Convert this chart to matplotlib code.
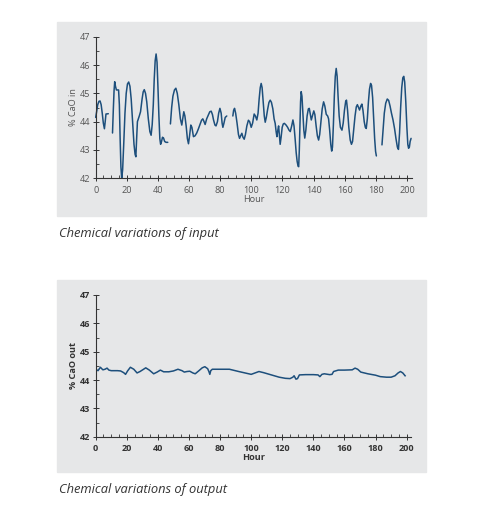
import numpy as np
import matplotlib
matplotlib.use("Agg")
import matplotlib.pyplot as plt
from matplotlib.patches import Rectangle
from matplotlib.ticker import MultipleLocator

plt.rcParams['font.family'] = ['Open Sans', 'DejaVu Sans']

# input % CaO; the line has gaps between these pieces
in_hours = [
    [0, 0.6, 1.3, 2.1, 2.8, 3.5, 4.2, 4.9, 5.6, 6.1, 6.6, 8.1],
    [10.8, 11.3, 11.8, 12.2, 12.7, 13.3, 14.7, 15.2, 15.7, 16.2, 16.7, 17.3, 18.0,
     18.8, 19.6, 20.4, 21.2, 22.0, 22.8, 23.7, 24.6, 25.3, 25.8, 26.3, 26.8, 28.0,
     28.8, 29.8, 30.5, 31.2, 32.0, 32.8, 33.8, 34.8, 35.6, 36.3, 37.0, 37.6, 38.2,
     38.8, 39.4, 40.0, 40.6, 41.2, 41.7, 42.3, 42.9, 43.6, 44.3, 45.2, 46.3],
    [48, 48.8, 49.6, 50.6, 51.5, 52.4, 53.4, 54.4, 55.3, 55.9, 56.6, 57.3, 58.1,
     58.9, 59.6, 60.3, 61.1, 61.8, 62.8, 63.8, 64.9, 66, 67, 68, 68.8, 69.6, 70.3,
     71.3, 72.4, 73.3, 74.2, 75, 75.7, 76.6, 77.3, 78.2, 79, 79.8, 80.6, 81.2,
     81.7, 82.4, 83.2, 84.2],
    [88.1, 88.6, 89.2, 89.9, 90.8, 91.7, 92.4, 93.1, 93.9, 94.6, 95.4, 96.2, 97.1,
     98.1, 98.9, 99.9, 100.8, 101.8, 102.6, 103.5, 104.3, 105.0, 105.7, 106.3,
     106.9, 107.6, 108.3, 108.9, 109.6, 110.5, 111.3, 112.1, 112.9, 113.8, 114.6,
     115.3, 115.9, 116.4, 117.0, 117.5, 118.0, 118.5, 119.1, 119.8, 120.5, 121.2,
     122.3, 123.3, 124.2, 125, 125.9, 126.7, 127.4, 128.1, 128.8, 129.4, 130.0,
     130.4, 130.8, 131.2, 131.6, 132.0, 132.5, 133.1, 133.7, 134.3, 135.0, 135.8,
     136.6, 137.2, 137.9, 138.5, 139.2, 140.1, 140.8, 141.6, 142.4, 143.2, 143.9,
     144.7, 145.5, 146.4, 147.2, 148.1, 149, 149.6, 150.3, 151, 151.6, 152.1,
     152.7, 153.3, 153.9, 154.5, 155.1, 155.7, 156.4, 157.2, 158.2, 159.0, 159.8,
     160.6, 161.1, 161.8, 162.6, 163.5, 164.3, 165.0, 165.8, 166.6, 167.4, 168.1,
     168.8, 169.5, 170.3, 171.0, 171.7, 172.5, 173.2, 173.8, 174.5, 175.2, 175.9,
     176.6, 177.2, 177.9, 178.6, 179.2, 179.8, 180.3],
    [183.9, 184.6, 185.4, 186.3, 187.3, 188.2, 189.1, 190.0, 191.0, 192.0, 192.9,
     193.8, 194.5, 195.2, 195.9, 196.6, 197.3, 197.9, 198.5, 199.2, 199.9, 200.5,
     201.0, 201.5, 202.0, 202.6],
]
in_cao = [
    [44.15, 44.35, 44.6, 44.72, 44.73, 44.6, 44.3, 43.95, 43.75, 44.0, 44.27, 44.28],
    [43.6, 44.4, 45.1, 45.41, 45.25, 45.12, 45.12, 44.6, 43.4, 42.4, 42.0, 42.3, 43.2,
     44.3, 45.0, 45.33, 45.4, 45.25, 44.8, 44.0, 43.2, 42.85, 42.76, 43.4, 44.0, 44.2,
     44.35, 44.8, 45.05, 45.13, 45.0, 44.7, 44.1, 43.65, 43.52, 43.9, 44.6, 45.5, 46.15,
     46.39, 46.1, 45.2, 44.2, 43.4, 43.2, 43.3, 43.45, 43.42, 43.3, 43.27, 43.27],
    [43.92, 44.5, 44.9, 45.12, 45.18, 45.0, 44.6, 44.1, 43.88, 44.1, 44.35, 44.2, 43.85,
     43.4, 43.22, 43.5, 43.88, 43.8, 43.47, 43.5, 43.6, 43.75, 43.9, 44.05, 44.1, 44.0,
     43.9, 44.1, 44.24, 44.35, 44.37, 44.25, 44.06, 43.88, 43.85, 44.0, 44.3, 44.47,
     44.3, 43.95, 43.8, 43.95, 44.15, 44.2],
    [44.2, 44.4, 44.47, 44.3, 43.95, 43.55, 43.41, 43.5, 43.59, 43.45, 43.38, 43.55,
     43.85, 44.05, 44.0, 43.8, 43.95, 44.27, 44.2, 44.06, 44.3, 44.8, 45.2, 45.35,
     45.2, 44.7, 44.2, 43.98, 44.15, 44.45, 44.68, 44.76, 44.68, 44.45, 44.1,
     43.94, 43.65, 43.47, 43.7, 43.85, 43.5, 43.2, 43.45, 43.8, 43.92, 43.94,
     43.88, 43.8, 43.7, 43.65, 43.85, 44.06, 43.85, 43.4, 42.9, 42.6, 42.43,
     42.41, 43.0, 43.9, 44.7, 45.06, 44.9, 44.3, 43.7, 43.42, 43.7, 44.2,
     44.45, 44.47, 44.25, 44.06, 44.2, 44.38, 44.25, 43.85, 43.5, 43.35, 43.55,
     44.0, 44.45, 44.7, 44.55, 44.26, 44.2, 44.1, 43.7, 43.2, 42.96, 43.1,
     43.9, 44.9, 45.6, 45.88, 45.6, 44.9, 44.2, 43.8, 43.7, 43.95, 44.4,
     44.72, 44.76, 44.4, 43.8, 43.35, 43.2, 43.3, 43.75, 44.2, 44.52, 44.6,
     44.5, 44.41, 44.55, 44.62, 44.4, 44.0, 43.8, 43.76, 44.1, 44.7, 45.15,
     45.35, 45.28, 44.85, 44.1, 43.4, 42.95, 42.79],
    [43.18, 43.7, 44.3, 44.65, 44.8, 44.75, 44.55, 44.3, 44.06, 43.75, 43.4,
     43.1, 43.02, 43.6, 44.5, 45.2, 45.55, 45.6, 45.4, 44.7, 43.8, 43.2,
     43.06, 43.1, 43.3, 43.41],
]

# output % CaO
out_hours = [0, 1.5, 3, 4.6, 6, 7.3, 8.5, 10, 12, 14, 16, 18, 19.2, 20.5, 22.3, 24.5,
             26.6, 28.5, 30.5, 32.2, 34.5, 37.3, 39.5, 41.6, 43.7, 47, 50, 52.9, 55.5,
             57, 58.7, 60.5, 62.5, 64, 66.2, 68.5, 70.2, 72, 72.8, 73.4, 74, 75, 80,
             86, 92, 100, 103, 105, 108, 113, 118, 122, 125, 126.8, 127.6, 128.8,
             129.8, 131, 135, 140, 143, 144.2, 145.5, 147, 150.5, 152, 153, 156, 160,
             165, 166.8, 168.5, 170.5, 175, 180, 183, 187, 190, 192.5, 194.5, 196,
             197.5, 199]
out_cao = [44.38, 44.33, 44.45, 44.36, 44.38, 44.42, 44.35, 44.33, 44.33, 44.33, 44.32,
           44.26, 44.2, 44.32, 44.45, 44.38, 44.25, 44.3, 44.37, 44.43, 44.35, 44.22,
           44.28, 44.35, 44.29, 44.29, 44.32, 44.38, 44.33, 44.28, 44.3, 44.31, 44.25,
           44.22, 44.32, 44.43, 44.47, 44.4, 44.3, 44.2, 44.33, 44.38, 44.38, 44.38,
           44.3, 44.2, 44.26, 44.3, 44.26, 44.18, 44.1, 44.06, 44.05, 44.1, 44.15,
           44.03, 44.05, 44.18, 44.19, 44.19, 44.18, 44.12, 44.2, 44.22, 44.19, 44.2,
           44.3, 44.35, 44.35, 44.36, 44.42, 44.38, 44.28, 44.22, 44.17, 44.12, 44.1,
           44.1, 44.15, 44.25, 44.3, 44.25, 44.15]

LINE = '#1d4f7c'
PANEL = '#e6e7e8'

W, H = 487, 512


def px_box(x0, y0, x1, y1):
    """pixel box (top-left origin) -> figure fraction rect"""
    return [x0 / W, 1 - y1 / H, (x1 - x0) / W, (y1 - y0) / H]


def style_axes(ax, ylabel, color, weight, xmax):
    ax.set_xlim(0, xmax)
    ax.set_ylim(42, 47)
    ax.patch.set_alpha(0)
    for s in ['top', 'right']:
        ax.spines[s].set_visible(False)
    for s in ['left', 'bottom']:
        ax.spines[s].set_color('#333333')
        ax.spines[s].set_linewidth(0.8)
    ax.xaxis.set_major_locator(MultipleLocator(20))
    ax.xaxis.set_minor_locator(MultipleLocator(5))
    ax.yaxis.set_major_locator(MultipleLocator(1))
    ax.yaxis.set_minor_locator(MultipleLocator(0.5))
    ax.tick_params(which='major', direction='inout', length=4, width=0.7,
                   color='#333333', labelsize=6.6, labelcolor=color)
    ax.tick_params(axis='x', which='major', pad=3.5)
    ax.tick_params(axis='y', which='major', pad=2)
    ax.tick_params(which='minor', direction='in', length=2, width=0.6, color='#333333')
    for lab in ax.get_xticklabels() + ax.get_yticklabels():
        lab.set_fontweight(weight)
    ax.set_xlabel('Hour', fontsize=6.6, color=color, fontweight=weight, labelpad=0)
    ax.set_ylabel(ylabel, fontsize=6.6, color=color, fontweight=weight, labelpad=1)


fig = plt.figure(figsize=(W / 100, H / 100), dpi=100)
fig.patch.set_facecolor('white')

# grey panels behind each chart
fig.patches.append(Rectangle((57 / W, 1 - 216 / H), 369 / W, 194 / H,
                             transform=fig.transFigure, color=PANEL, zorder=-5))
fig.patches.append(Rectangle((57 / W, 1 - 472 / H), 369 / W, 192 / H,
                             transform=fig.transFigure, color=PANEL, zorder=-5))

# top: input
ax1 = fig.add_axes(px_box(95.7, 36.7, 411.7, 178.3))
for h, v in zip(in_hours, in_cao):
    ax1.plot(h, v, color=LINE, lw=1.1, solid_joinstyle='round',
             solid_capstyle='round', clip_on=False)
style_axes(ax1, '% CaO in', '#555555', 'normal', 203)

# bottom: output
ax2 = fig.add_axes(px_box(95.7, 295, 410.7, 436.7))
ax2.plot(out_hours, out_cao, color=LINE, lw=1.1, solid_joinstyle='round')
style_axes(ax2, '% CaO out', '#333333', 'bold', 202.6)

fig.text(59 / W, 1 - 233 / H, 'Chemical variations of input', fontsize=9.3,
         style='italic', color='#333333', va='center')
fig.text(59 / W, 1 - 490 / H, 'Chemical variations of output', fontsize=9.3,
         style='italic', color='#333333', va='center')

fig.savefig('out.png', dpi=100)
